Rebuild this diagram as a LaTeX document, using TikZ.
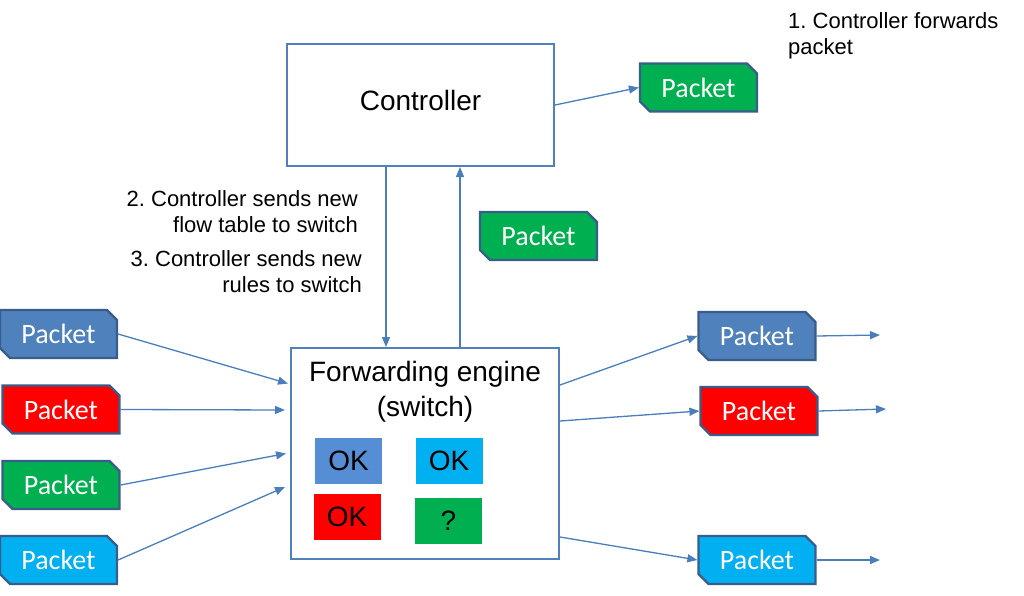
\documentclass[tikz,border=0pt]{standalone}
\usepackage{fontspec}
\setmainfont{Liberation Sans}
\newfontfamily\pktfont{Carlito}
\usepackage{xcolor}
\definecolor{sdline}{HTML}{4F81BD}
\definecolor{sdarrowc}{HTML}{4A7EBB}
\definecolor{sdedge}{HTML}{385D8A}
\definecolor{sdblue}{HTML}{4F81BD}
\definecolor{sdblueok}{HTML}{558ED5}
\definecolor{sdred}{HTML}{FF0000}
\definecolor{sdgreen}{HTML}{00B050}
\definecolor{sdcyan}{HTML}{00B0F0}
\usetikzlibrary{arrows.meta,positioning,calc,shapes.misc}
\frenchspacing
\tikzset{
  sdbox/.style   ={rectangle, draw=sdline, fill=white, line width=2pt,
                   inner sep=0pt, align=center, font=\fontsize{28}{34}\selectfont},
  sdpacket/.style={chamfered rectangle, chamfered rectangle corners={north east,south west},
                   chamfered rectangle xsep=5pt, chamfered rectangle ysep=5pt,
                   draw=sdedge, line width=2.2pt, inner sep=0pt,
                   minimum width=117pt, minimum height=48pt,
                   text=white, font=\pktfont\fontsize{28}{32}\selectfont},
  sdok/.style    ={rectangle, inner sep=0pt, minimum width=67pt, minimum height=46pt,
                   font=\fontsize{28}{32}\selectfont},
  sdarrow/.style ={-{Triangle[length=10pt,width=8pt]}, line width=1.3pt, draw=sdarrowc},
  sdlbl/.style   ={font=\fontsize{22}{26}\selectfont, text=black, inner sep=0pt},
}

\begin{document}
\begin{tikzpicture}[x=1pt, y=-1pt]
  \useasboundingbox (0,0) rectangle (1024,596);
  % boxes
  \node[sdbox, minimum width=267pt, minimum height=122pt, text depth=10pt] (ctrl)
    at (420.5,105) {Controller};
  \node[sdbox, minimum width=268pt, minimum height=211pt] (sw) at (425,453.5) {};
  \node[font=\fontsize{28}{35}\selectfont, align=center, anchor=north] (swlbl)
    at (425,358) {Forwarding engine\\(switch)};
  % flow table entries
  \node[sdok, fill=sdblueok] (ok1) at (348.5,461) {OK};
  \node[sdok, fill=sdcyan]   (ok2) at (449,460.5) {OK};
  \node[sdok, fill=sdred]    (ok3) at (347,517) {OK};
  \node[sdok, fill=sdgreen]  (ok4) at (448.5,521) {?};
  % packets
  \node[sdpacket, fill=sdgreen] (pC)  at (698.5,87.5) {Packet};
  \node[sdpacket, fill=sdgreen] (pM)  at (538.5,236)  {Packet};
  \foreach \n/\col/\x/\y in {L1/sdblue/58.5/334, L2/sdred/61/409.5,
                             L3/sdgreen/61/485, L4/sdcyan/58.5/560,
                             R1/sdblue/757/336, R2/sdred/759/411, R3/sdcyan/757/560}{
    \node[sdpacket, fill=\col] (p\n) at (\x,\y) {Packet};
  }
  % labels
  \node[sdlbl, align=left, anchor=north west] (lab1) at (788,12)
    {1. Controller forwards\\packet};
  \node[sdlbl, align=right, anchor=north east] (lab2) at (358,190)
    {2. Controller sends new\\flow table to switch};
  \node[sdlbl, align=right, anchor=north east] (lab3) at (362,250)
    {3. Controller sends new\\rules to switch};
  % controller links
  \coordinate (dn) at ($(ctrl.south west)+(100,0)$);
  \coordinate (up) at ($(ctrl.south west)+(174,0)$);
  \draw[sdarrow] (ctrl.east) -- (pC.west);
  \draw[sdarrow] (dn) -- (dn |- sw.north);
  \draw[sdarrow] (up |- sw.north) -- (up);
  % incoming packets
  \draw[sdarrow] (pL1.east) -- ([xshift=-2pt, yshift=70pt]sw.west);
  \draw[sdarrow] (pL2.east) -- ([xshift=-5pt, yshift=43.5pt]sw.west);
  \draw[sdarrow] (pL3.east) -- ([xshift=-4pt, yshift=0pt]sw.west);
  \draw[sdarrow] (pL4.east) -- ([xshift=-5pt, yshift=-33.5pt]sw.west);
  % outgoing packets
  \draw[sdarrow] ([yshift=68.5pt]sw.east) -- (pR1.west);
  \draw[sdarrow] ([yshift=32.5pt]sw.east) -- (pR2.west);
  \draw[sdarrow] ([yshift=-83.5pt]sw.east) -- (pR3.west);
  \coordinate (o1) at (880,335);
  \coordinate (o2) at (886,409);
  \coordinate (o3) at (880,560);
  \draw[sdarrow] (pR1.east) -- (o1);
  \draw[sdarrow] (pR2.east) -- (o2);
  \draw[sdarrow] (pR3.east) -- (o3);
\end{tikzpicture}
\end{document}
